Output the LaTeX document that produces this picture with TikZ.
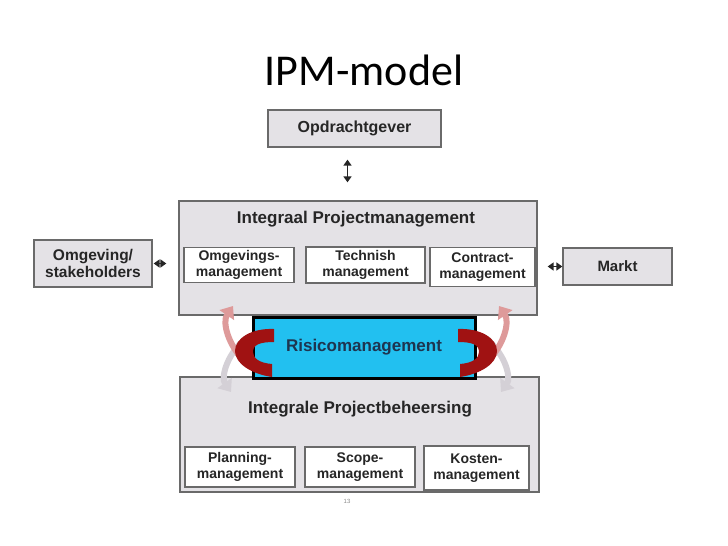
\documentclass[tikz,border=0pt]{standalone}
\usepackage{fontspec}
\setmainfont{Liberation Sans}
\newfontfamily\titlefont{Carlito}
\usetikzlibrary{arrows.meta}
\definecolor{boxfill}{HTML}{E4E2E6}
\definecolor{boxline}{HTML}{6A6A6A}
\definecolor{risico}{HTML}{22C0F0}
\definecolor{risicotext}{HTML}{1E3550}
\definecolor{crescent}{HTML}{A01212}
\definecolor{pinkarrow}{HTML}{DE9A9A}
\definecolor{greyarrow}{HTML}{D4D0D6}
\definecolor{boxtext}{HTML}{262626}
\tikzset{
  graybox/.style={draw=boxline, fill=boxfill, line width=1.3pt, inner sep=0pt, align=center, text=boxtext},
  whitebox/.style={draw=boxline, fill=white, line width=1.1pt, inner sep=0pt, align=center, text=boxtext,
    font=\bfseries\fontsize{14}{15.5}\selectfont},
  headline/.style={font=\bfseries\fontsize{17}{20}\selectfont, text=boxtext},
  biarrow/.style={{Triangle[length=6pt,width=8pt]}-{Triangle[length=6pt,width=8pt]}, line width=1.6pt, black!85},
  pinkup/.style={draw=pinkarrow, line width=6pt, -{Triangle[length=11pt,width=17pt]}},
  greydown/.style={draw=greyarrow, line width=6pt, -{Triangle[length=11pt,width=17pt]}},
}
\begin{document}
\begin{tikzpicture}[x=1pt,y=-1pt]
\useasboundingbox[fill=white] (0,0) rectangle (728,546);
\node[font=\titlefont\fontsize{44}{48}\selectfont] (title) at (364,70) {IPM-model};
\node[graybox, minimum width=173pt, minimum height=37pt, font=\bfseries\fontsize{16}{18}\selectfont] (opdracht) at (354.5,128.5) {Opdrachtgever};
\node[graybox, minimum width=358pt, minimum height=114pt] (ipm) at (358,258) {};
\node[headline] (ipmtitle) at (356,219) {Integraal Projectmanagement};
\node[whitebox, minimum width=110pt, minimum height=35pt] (omgman) at (239,265) {Omgevings-\\management};
\node[whitebox, minimum width=119pt, minimum height=36pt] (techman) at (365.5,265) {Technish\\management};
\node[whitebox, minimum width=105pt, minimum height=39pt] (contrman) at (482.5,267) {Contract-\\management};
\node[graybox, minimum width=118pt, minimum height=47pt, font=\bfseries\fontsize{15.5}{17}\selectfont] (omg) at (93,263.5) {Omgeving/\\stakeholders};
\node[graybox, minimum width=109pt, minimum height=37pt, font=\bfseries\fontsize{15}{17}\selectfont] (markt) at (617.5,266.5) {Markt};
\node[graybox, minimum width=359pt, minimum height=115pt] (ipb) at (359.5,434.5) {};
\node[headline] (ipbtitle) at (360,409) {Integrale Projectbeheersing};
\node[whitebox, minimum width=110pt, minimum height=40pt] (planman) at (240,467) {Planning-\\management};
\node[whitebox, minimum width=110pt, minimum height=40pt] (scopeman) at (360,467) {Scope-\\management};
\node[whitebox, minimum width=105pt, minimum height=44pt] (kostman) at (476.5,468) {Kosten-\\management};
\node[draw=black, fill=risico, line width=3pt, minimum width=222pt, minimum height=61pt, inner sep=0pt,
  text=risicotext, font=\bfseries\fontsize{17}{20}\selectfont] (risico) at (364,347.5) {Risicomanagement};
\node[text=black!45, font=\fontsize{6}{7}\selectfont] (pagenr) at (347,501) {13};
\draw[biarrow, shorten <=12pt, shorten >=18pt] ([xshift=-7pt]opdracht.south) -- ([xshift=-7pt]opdracht.south |- ipm.north);
\draw[biarrow, shorten <=1pt, shorten >=12pt] (omg.east) -- (omg.east -| ipm.west);
\draw[biarrow, shorten <=0pt, shorten >=10pt] (markt.west) -- (markt.west -| ipm.east);
\foreach \side/\shift in {1/0, -1/732}{
  \begin{scope}[xshift=\shift pt, xscale=\side]
    \draw[greydown] (244,340) .. controls (226,356) and (221,378) .. (231,392);
    \draw[pinkup] (245,362) .. controls (228,345) and (222,322) .. (233,306);
    \fill[crescent] (274,329) .. controls (252,328) and (235,338) .. (235,351)
      .. controls (235,364) and (252,374) .. (272,377) -- (272,364)
      .. controls (259,363) and (253,358) .. (253,352)
      .. controls (253,345) and (259,342) .. (274,342) -- cycle;
  \end{scope}
}
\end{tikzpicture}
\end{document}
